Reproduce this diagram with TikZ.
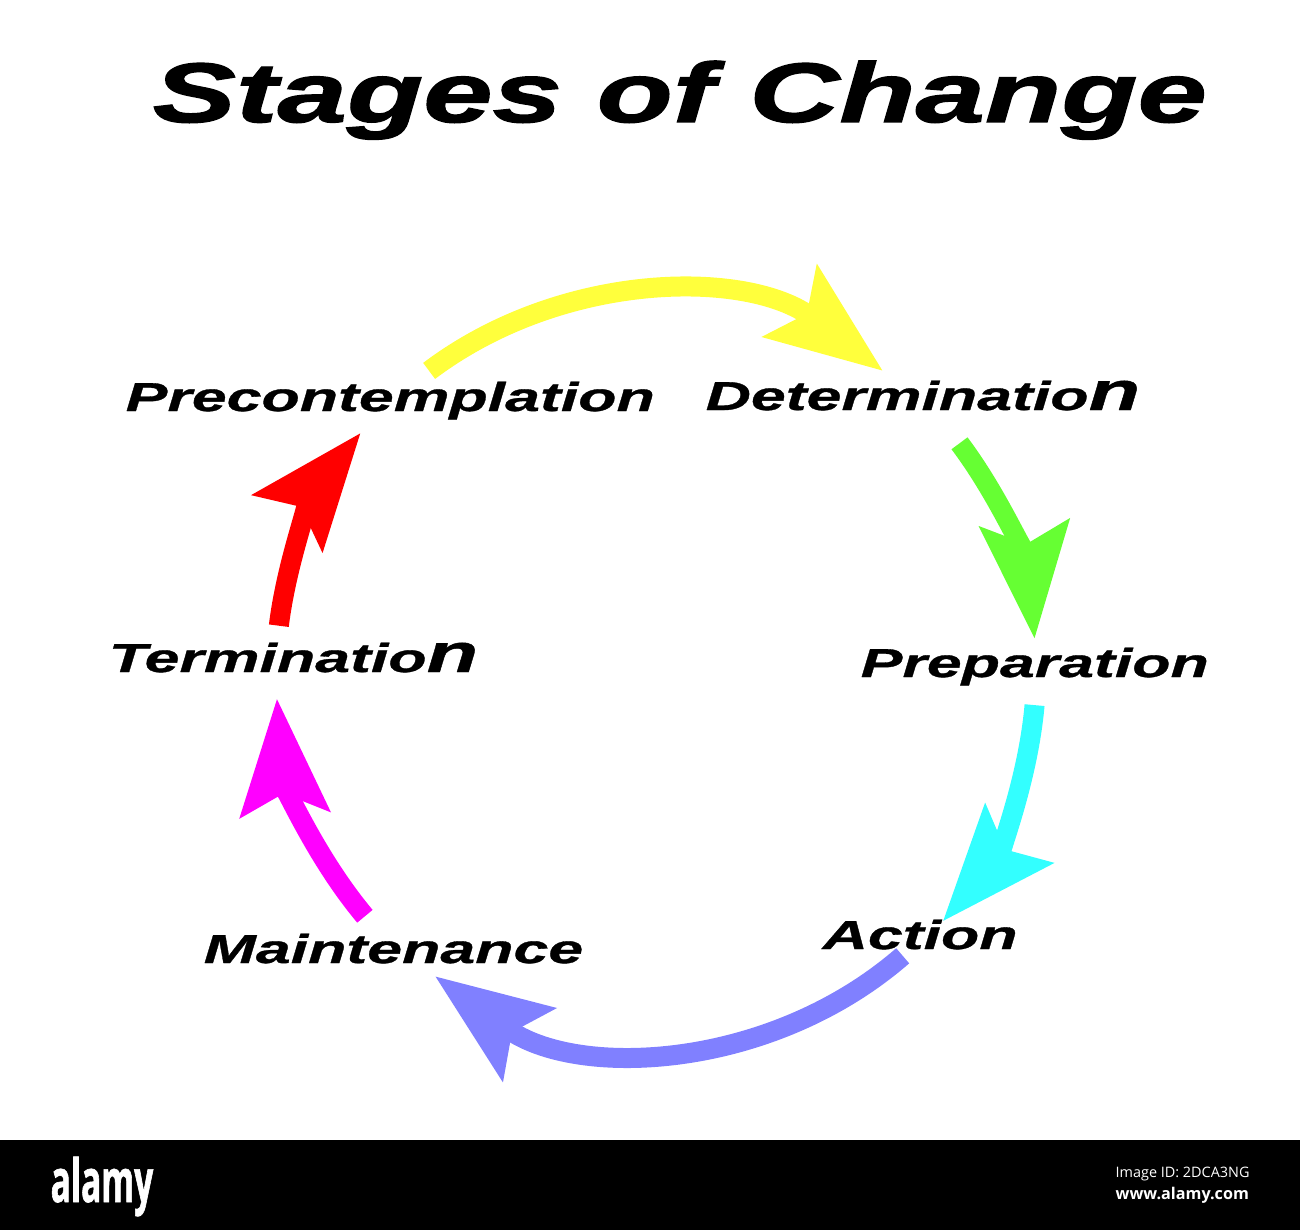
\documentclass[tikz,border=0pt]{standalone}
\usepackage{fontspec}
\usetikzlibrary{arrows.meta}
\newfontfamily\stagefont[FakeStretch=1.55,BoldItalicFeatures={FakeBold=0.8}]{Liberation Sans}
\newfontfamily\titlefont[FakeStretch=1.48,BoldItalicFeatures={FakeBold=1.6}]{Liberation Sans}
\newfontfamily\alamyfont[FakeStretch=0.56,BoldFeatures={FakeBold=1}]{Open Sans}
\newfontfamily\idfont{Open Sans}
\definecolor{stYellow}{RGB}{255,255,60}
\definecolor{stGreen}{RGB}{102,255,51}
\definecolor{stCyan}{RGB}{51,255,255}
\definecolor{stBlue}{RGB}{128,128,255}
\definecolor{stMagenta}{RGB}{255,0,255}
\definecolor{stRed}{RGB}{255,0,0}
\newcommand\bign{{\fontsize{15.5}{16}\selectfont n}}
\begin{document}
\begin{tikzpicture}[every node/.style={inner sep=0pt},
	stage/.style={anchor=base west,
	font=\stagefont\bfseries\itshape\fontsize{11.5}{12}\selectfont},
	cyc/.style={line width=0.2cm,
	-{Stealth[length=1.15cm,width=0.88cm,inset=0.2cm]}}]
\useasboundingbox (0,0) rectangle (13,-12.3);
\node[anchor=base west,font=\titlefont\bfseries\itshape\fontsize{24}{26}\selectfont] (title) at (1.52,-1.22) {Stages of Change};
\coordinate (c) at (6.56,-6.72);
\draw[cyc,stYellow] (c) ++(127:3.77) arc[start angle=127,end angle=53,radius=3.77];
\draw[cyc,stGreen] (c) ++(37:3.8) arc[start angle=37,end angle=5,radius=3.8];
\draw[cyc,stCyan] (c) ++(-5:3.8) arc[start angle=-5,end angle=-41,radius=3.8];
\draw[cyc,stBlue] (c) ++(-49:3.76) arc[start angle=-49,end angle=-126,radius=3.76];
\draw[cyc,stMagenta] (c) ++(220:3.8) arc[start angle=220,end angle=184,radius=3.8];
\draw[cyc,stRed] (c) ++(173:3.8) arc[start angle=173,end angle=141,radius=3.8];
\node[stage] (pre) at (1.25,-4.11) {Precontemplation};
\node[stage] (det) at (7.05,-4.10) {Determinatio\bign};
\node[stage] (prep) at (8.60,-6.77) {Preparation};
\node[stage] (act) at (8.22,-9.49) {Action};
\node[stage] (main) at (2.03,-9.63) {Maintenance};
\node[stage] (term) at (1.08,-6.72) {Terminatio\bign};
\fill[black] (0,-11.40) rectangle (13,-12.30);
\node[anchor=base west,text=white,font=\alamyfont\bfseries\fontsize{17}{17}\selectfont] (logo) at (0.50,-12.02) {alamy};
\node[anchor=base west,text=white,font=\idfont\fontsize{4.1}{5}\selectfont] (imgid) at (11.15,-11.77) {Image ID: 2DCA3NG};
\node[anchor=base west,text=white,font=\idfont\bfseries\fontsize{4.6}{5}\selectfont] (www) at (11.15,-11.99) {www.alamy.com};
\end{tikzpicture}
\end{document}
